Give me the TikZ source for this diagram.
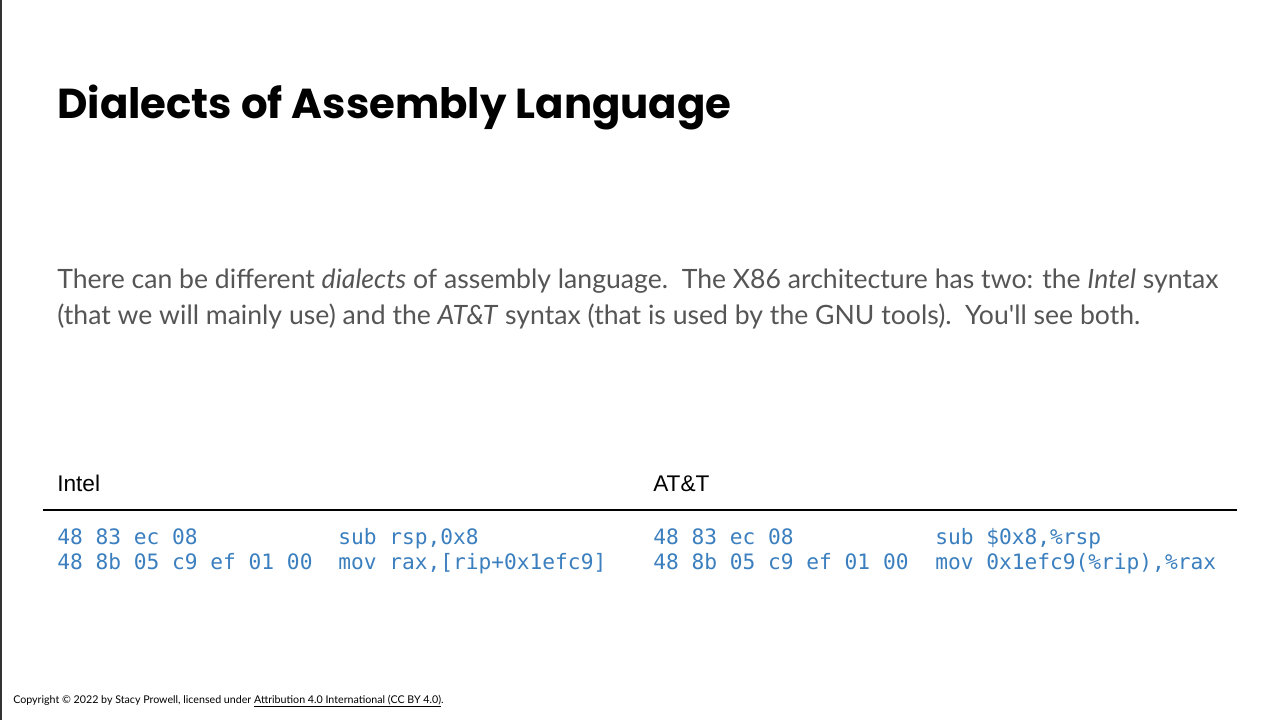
\documentclass[tikz,border=0pt]{standalone}
\usepackage{fontspec}
\setmainfont{Lato}
\newfontfamily\titlefont{Poppins}
\newfontfamily\arialf{Liberation Sans}
\newfontfamily\codef{DejaVu Sans Mono}
\begin{document}
\begin{tikzpicture}[x=0.75pt,y=-0.75pt,
  tx/.style={anchor=base west,inner sep=0pt},
  code/.style={tx,font=\codef\fontsize{15.9}{18}\selectfont,text=codec},
  hd/.style={tx,font=\arialf\fontsize{17}{20}\selectfont}]
\definecolor{codec}{HTML}{3B7FBF}
\definecolor{bodyc}{HTML}{555555}
\useasboundingbox[fill=white] (0,0) rectangle (1280,720);
\draw[line width=1.5pt,black!80] (0.5,0) -- (0.5,720);
\node[tx,font=\titlefont\bfseries\fontsize{31.4}{36}\selectfont] (title) at (57,119) {Dialects of Assembly Language};
\node[tx,font=\fontsize{19.95}{26}\selectfont,text=bodyc] (l1) at (57,288) {There can be different \textit{dialects} of assembly language.\ \ The X86 architecture has two: the \textit{Intel} syntax};
\node[tx,font=\fontsize{19.95}{26}\selectfont,text=bodyc] (l2) at (57,324) {(that we will mainly use) and the \textit{AT\&T} syntax (that is used by the GNU tools).\ \ You\textquotesingle ll see both.};
\node[hd] (intel) at (57,491) {Intel};
\node[hd] (att) at (653,491) {AT\&T};
\coordinate (ra) at (43,510); \coordinate (rb) at (1237,510);
\draw[line width=0.8pt] (ra) -- (rb);
\node[code] (a1) at (57,544) {48 83 ec 08};
\node[code] (a2) at (57,569) {48 8b 05 c9 ef 01 00};
\node[code] (b1) at (338,544) {sub rsp,0x8};
\node[code] (b2) at (338,569) {mov rax,[rip+0x1efc9]};
\node[code] (c1) at (653,544) {48 83 ec 08};
\node[code] (c2) at (653,569) {48 8b 05 c9 ef 01 00};
\node[code] (d1) at (935,544) {sub \$0x8,\%rsp};
\node[code] (d2) at (935,569) {mov 0x1efc9(\%rip),\%rax};
\node[tx,font=\fontsize{8}{9}\selectfont] (copy) at (13,703) {Copyright \textcopyright{} 2022 by Stacy Prowell, licensed under \underline{Attribution 4.0 International (CC BY 4.0)}.};
\end{tikzpicture}
\end{document}
